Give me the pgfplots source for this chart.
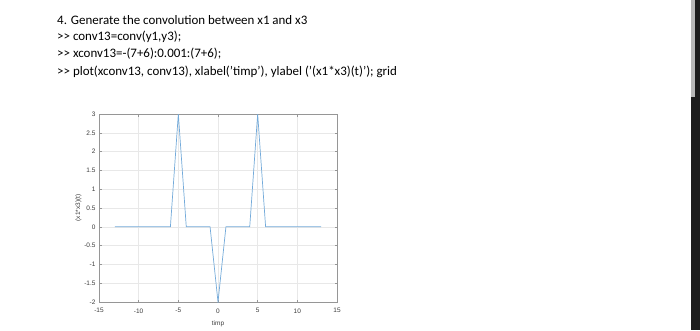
\documentclass[border=0pt]{standalone}
\usepackage{pgfplots}
\pgfplotsset{compat=1.18}
\usepackage{fontspec}
\setmainfont{Carlito}
\newfontfamily\axfont{Liberation Sans}
\definecolor{mblue}{RGB}{115,170,218}
\definecolor{bgdark}{RGB}{30,30,30}
\definecolor{axgray}{RGB}{150,150,150}
\definecolor{txtgray}{RGB}{60,60,60}
\begin{document}
\begin{tikzpicture}[x=1bp,y=1bp]
\fill[white] (0,0) rectangle (700,330);
\fill[bgdark] (691,0) rectangle (700,330);
\fill[gray!55] (691,233) rectangle (695,330);
\begin{scope}[every node/.style={anchor=base west, inner sep=0pt, font=\fontsize{13}{15}\selectfont}]
\node at (57,305) {4. Generate the convolution between x1 and x3};
\node at (57,289) {>{}> conv13=conv(y1,y3);};
\node at (57,272) {>{}> xconv13=-(7+6):0.001:(7+6);};
\node at (57,254) {>{}> plot(xconv13, conv13), xlabel('timp'), ylabel ('(x1*x3)(t)'); grid};
\end{scope}
\begin{axis}[
  at={(99bp,28bp)}, anchor=south west,
  width=238bp, height=188bp, scale only axis,
  xmin=-15, xmax=15, ymin=-2, ymax=3,
  xtick={-15,-10,...,15},
  ytick={-2,-1.5,...,3},
  grid=major,
  major grid style={gray!18, line width=0.4pt},
  axis line style={axgray, line width=0.6pt},
  tick style={axgray, line width=0.4pt},
  tick align=inside,
  major tick length=2.5bp,
  tick label style={font=\axfont\fontsize{6.5}{7}\selectfont, text=txtgray},
  /pgf/number format/assume math mode=true,
  xticklabel style={yshift=-3bp},
  xlabel={timp},
  ylabel={(x1*x3)(t)},
  label style={font=\axfont\fontsize{6.5}{7.5}\selectfont, text=txtgray},
  xlabel style={yshift=-1bp},
  ylabel style={yshift=-4bp},
]
\addplot[mblue, line width=0.7pt] coordinates {
(-13,0) (-6,0) (-5,3) (-4,0) (-1,0) (0,-2) (1,0) (4,0) (5,3) (6,0) (13,0)
};
\end{axis}
\end{tikzpicture}
\end{document}
